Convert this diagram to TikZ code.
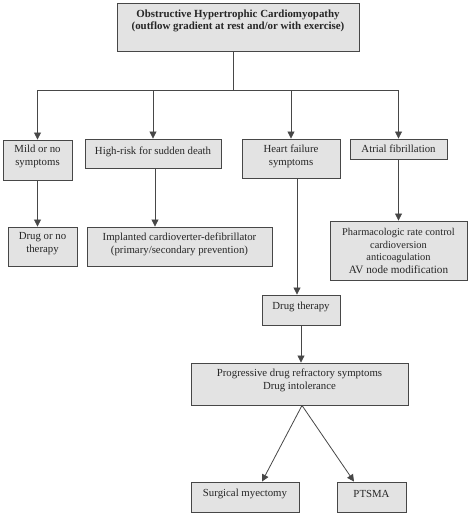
\documentclass[tikz,border=0pt]{standalone}
\usepackage{fontspec}
\setmainfont{Liberation Serif}
\usetikzlibrary{arrows.meta}
\definecolor{boxfill}{HTML}{E3E3E3}
\definecolor{linec}{HTML}{474747}
\begin{document}
\begin{tikzpicture}[x=1pt,y=-1pt,
  box/.style={draw=linec,fill=boxfill,line width=0.9pt,inner sep=0pt,minimum width=#1},
  txt/.style={align=center,inner sep=0pt,font=\fontsize{10.8}{13}\selectfont,text=black!85},
  conn/.style={draw=linec,line width=0.8pt},
  arr/.style={conn,-{Triangle[width=7pt,length=7pt]}}]
\useasboundingbox (0,0) rectangle (468,514);
% boxes
\node[box=242,minimum height=48] (top) at (238,27) {};
\node[box=69,minimum height=40] (mild) at (37.5,160) {};
\node[box=136,minimum height=29] (high) at (153,153.5) {};
\node[box=98,minimum height=39] (hf) at (291,158.5) {};
\node[box=97,minimum height=20] (af) at (398.5,149) {};
\node[box=69,minimum height=39] (drugno) at (42.5,246.5) {};
\node[box=185,minimum height=39] (icd) at (179.5,246.5) {};
\node[box=137,minimum height=59] (pharm) at (398.5,250.5) {};
\node[box=78,minimum height=30] (drug) at (301,310) {};
\node[box=217,minimum height=42] (prog) at (299.5,384) {};
\node[box=108,minimum height=30] (surg) at (245,497) {};
\node[box=69,minimum height=30] (ptsma) at (371.5,497) {};
% texts
\node[txt,font=\fontsize{10.9}{12.3}\selectfont\bfseries] (topT) at (238,21) {Obstructive Hypertrophic Cardiomyopathy\\(outflow gradient at rest and/or with exercise)};
\node[txt] (mildT) at (37.5,156.5) {Mild or no\\symptoms};
\node[txt] (highT) at (153,152) {High-risk for sudden death};
\node[txt] (hfT) at (291,156.5) {Heart failure\\symptoms};
\node[txt] (afT) at (398.5,149) {Atrial fibrillation};
\node[txt] (drugnoT) at (42.5,244) {Drug or no\\therapy};
\node[txt] (icdT) at (179.5,244) {Implanted cardioverter-defibrillator\\(primary/secondary prevention)};
\node[txt,font=\fontsize{10.4}{12.7}\selectfont] (pharmT) at (398.5,251) {Pharmacologic rate control\\cardioversion\\anticoagulation\\{\fontsize{11.2}{12.7}\selectfont AV node modification}};
\node[txt] (drugT) at (301,307) {Drug therapy};
\node[txt] (progT) at (299.5,380.5) {Progressive drug refractory symptoms\\Drug intolerance};
\node[txt] (surgT) at (245,494) {Surgical myectomy};
\node[txt] (ptsmaT) at (371.5,494) {PTSMA};
% connectors
\coordinate (j) at (233,90);
\draw[conn] (top.south -| j) -- (j);
\draw[conn] (mild.north |- j) -- (af.north |- j);
\draw[arr] (mild.north |- j) -- (mild.north);
\draw[arr] (high.north |- j) -- (high.north);
\draw[arr] (hf.north |- j) -- (hf.north);
\draw[arr] (af.north |- j) -- (af.north);
\draw[arr] (mild.south) -- (mild.south |- drugno.north);
\draw[arr] ([xshift=2]high.south) -- ([xshift=2]high.south |- icd.north);
\draw[arr] (af.south) -- (af.south |- pharm.north);
\draw[arr] ([xshift=6]hf.south) -- ([xshift=6]hf.south |- drug.north);
\draw[arr] (drug.south) -- (drug.south |- prog.north);
\draw[arr] ([xshift=2.5]prog.south) -- ([xshift=17]surg.north);
\draw[arr] ([xshift=2.5]prog.south) -- ([xshift=-17.5]ptsma.north);
\end{tikzpicture}
\end{document}
